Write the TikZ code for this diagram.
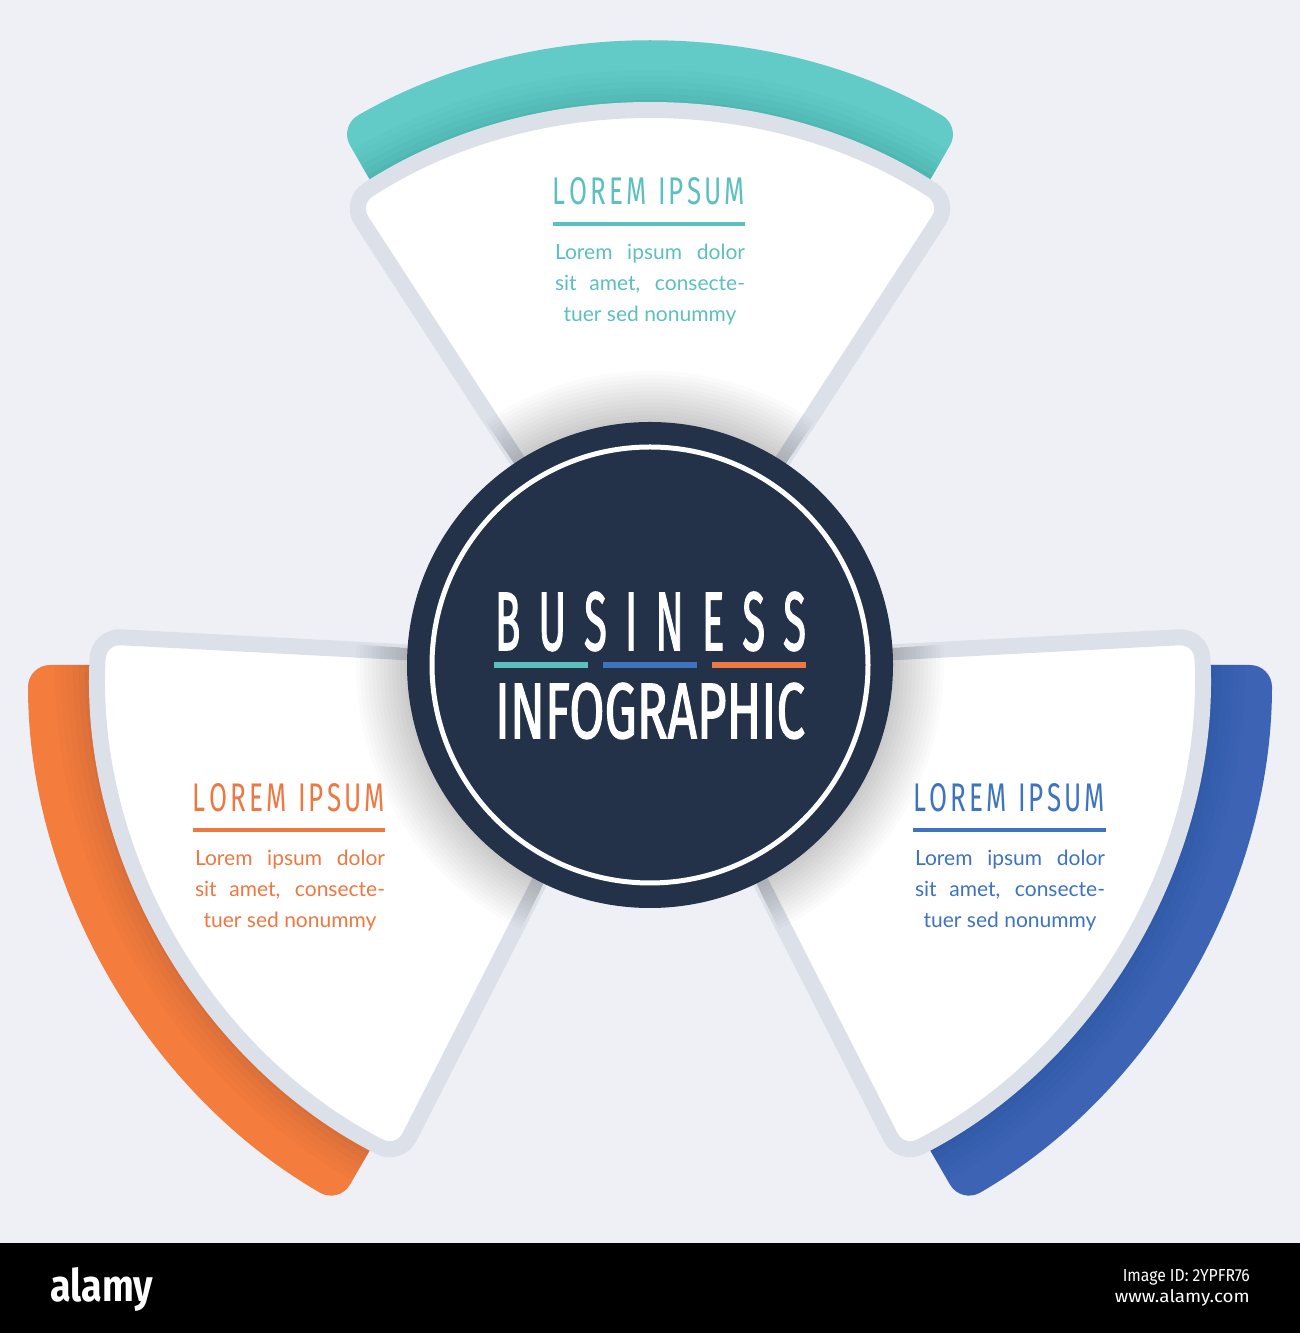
\documentclass[tikz,border=0pt]{standalone}
\usepackage{fontspec}
\setmainfont{Lato}
\newfontfamily\titlefont{Fira Sans}
\newfontfamily\heavytitle{Fira Sans}[FakeBold=2]
\definecolor{bg}{HTML}{EEF0F6}
\definecolor{grayb}{HTML}{DCE1E9}
\definecolor{navy}{HTML}{243249}
\definecolor{tealA}{HTML}{62CBC7}
\definecolor{tealB}{HTML}{3A9F9B}
\definecolor{orangeA}{HTML}{F47C3C}
\definecolor{orangeB}{HTML}{B85E38}
\definecolor{blueA}{HTML}{3C63B4}
\definecolor{blueB}{HTML}{24509A}
\definecolor{tealT}{HTML}{5BC0BF}
\definecolor{orangeT}{HTML}{EE7841}
\definecolor{blueT}{HTML}{3E73C0}
\newcommand\bandpath[1]{({#1-30}:530) -- ({#1-30}:622) arc[start angle={#1-30}, end angle={#1+30}, radius=622] -- ({#1+30}:530) arc[start angle={#1+30}, end angle={#1-30}, radius=530] -- cycle}
\newcommand\mkband[3]{%
  \begin{scope}
    \clip[rounded corners=22pt] \bandpath{#1};
    \fill[#2] (0,0) circle (640);
    \foreach \k/\o in {0/0.55,1/0.45,2/0.35,3/0.26,4/0.18,5/0.11,6/0.05}{
      \draw[#3, opacity=\o, line width=6pt] ({#1-40}:{556+6*\k}) arc[start angle={#1-40}, end angle={#1+40}, radius={556+6*\k}];
    }
  \end{scope}}
\newcommand\sectorpath[2]{(0,0) -- ({#1-#2}:552) arc[start angle={#1-#2}, end angle={#1+#2}, radius=552] -- cycle}
\tikzset{
  sector/.style={fill=white, draw=grayb, line width=16pt, rounded corners=22pt},
  body/.style={anchor=base, inner sep=0pt, font=\fontsize{21}{22}\selectfont},
  ttl/.style={anchor=base, inner sep=0pt},
  rule/.style={line width=4.5pt}
}
\begin{document}
\begin{tikzpicture}[x=1pt,y=1pt]
\useasboundingbox (0,0) rectangle (1300,1333);
\fill[bg] (0,0) rectangle (1300,1333);
\begin{scope}[shift={(650,668)}]
  \mkband{90}{tealA}{tealB}
  \mkband{210}{orangeA}{orangeB}
  \mkband{330}{blueA}{blueB}
  \draw[sector] \sectorpath{90}{33};
  \draw[sector] \sectorpath{210}{33};
  \draw[sector] \sectorpath{330}{33};
  \begin{scope}
    \clip (0,0) -- (56:560) arc[start angle=56, end angle=124, radius=560] -- cycle
          (0,0) -- (176:560) arc[start angle=176, end angle=244, radius=560] -- cycle
          (0,0) -- (296:560) arc[start angle=296, end angle=364, radius=560] -- cycle;
    \foreach \r in {246,250,...,294}{
      \fill[black, opacity=0.014] (0,0) circle (\r);
    }
  \end{scope}
  \node[circle, fill=navy, minimum size=486pt, inner sep=0pt] (hub) at (0,0) {};
  \draw[white, line width=5pt] (hub.center) circle (218);
\end{scope}
% title
\node[ttl, text=white] (business) at (650.5,683) {\resizebox{311pt}{58pt}{\heavytitle B\kern.43em U\kern.43em S\kern.43em I\kern.43em N\kern.43em E\kern.43em S\kern.43em S}};
\coordinate (l1a) at (494,668); \coordinate (l1b) at (588,668);
\coordinate (l2a) at (603,668); \coordinate (l2b) at (697,668);
\coordinate (l3a) at (712,668); \coordinate (l3b) at (806,668);
\draw[tealT, line width=6pt] (l1a) -- (l1b);
\draw[blueT, line width=6pt] (l2a) -- (l2b);
\draw[orangeT, line width=6pt] (l3a) -- (l3b);
\node[ttl, text=white] (infographic) at (650,595) {\resizebox{310pt}{55pt}{\heavytitle INFOGRAPHIC}};
% top sector text
\node[ttl, text=tealT] (t1) at (649,1128) {\resizebox{192pt}{27pt}{\titlefont L\kern.12em O\kern.12em R\kern.12em E\kern.12em M\kern.45em I\kern.12em P\kern.12em S\kern.12em U\kern.12em M}};
\coordinate (u1a) at (553,1109); \coordinate (u1b) at (745,1109);
\draw[rule, tealT] (u1a) -- (u1b);
\node[body, text=tealT] (b1a) at (650,1073) {\makebox[190pt][s]{Lorem ipsum dolor}};
\node[body, text=tealT] (b1b) at (650,1042) {\makebox[190pt][s]{sit amet, consecte-}};
\node[body, text=tealT] (b1c) at (650,1011) {tuer sed nonummy};
% left sector text
\node[ttl, text=orangeT] (t2) at (289,521) {\resizebox{192pt}{28pt}{\titlefont L\kern.12em O\kern.12em R\kern.12em E\kern.12em M\kern.45em I\kern.12em P\kern.12em S\kern.12em U\kern.12em M}};
\coordinate (u2a) at (193,503); \coordinate (u2b) at (385,503);
\draw[rule, orangeT] (u2a) -- (u2b);
\node[body, text=orangeT] (b2a) at (290,467) {\makebox[190pt][s]{Lorem ipsum dolor}};
\node[body, text=orangeT] (b2b) at (290,436) {\makebox[190pt][s]{sit amet, consecte-}};
\node[body, text=orangeT] (b2c) at (290,405) {tuer sed nonummy};
% right sector text
\node[ttl, text=blueT] (t3) at (1009,521) {\resizebox{192pt}{28pt}{\titlefont L\kern.12em O\kern.12em R\kern.12em E\kern.12em M\kern.45em I\kern.12em P\kern.12em S\kern.12em U\kern.12em M}};
\coordinate (u3a) at (913,503); \coordinate (u3b) at (1106,503);
\draw[rule, blueT] (u3a) -- (u3b);
\node[body, text=blueT] (b3a) at (1010,467) {\makebox[190pt][s]{Lorem ipsum dolor}};
\node[body, text=blueT] (b3b) at (1010,436) {\makebox[190pt][s]{sit amet, consecte-}};
\node[body, text=blueT] (b3c) at (1010,405) {tuer sed nonummy};
% bottom bar
\fill[black] (0,0) rectangle (1300,90);
\node[anchor=base west, inner sep=0pt, text=white] (logo) at (50,31) {\resizebox{103pt}{34pt}{\titlefont\bfseries alamy}};
\node[anchor=base east, inner sep=0pt, text=white] (imgid) at (1250,51) {\resizebox{127pt}{12pt}{\titlefont Image ID: 2YPFR76}};
\node[anchor=base east, inner sep=0pt, text=white] (www) at (1250,30) {\resizebox{135pt}{13pt}{\titlefont www.alamy.com}};
\end{tikzpicture}
\end{document}
